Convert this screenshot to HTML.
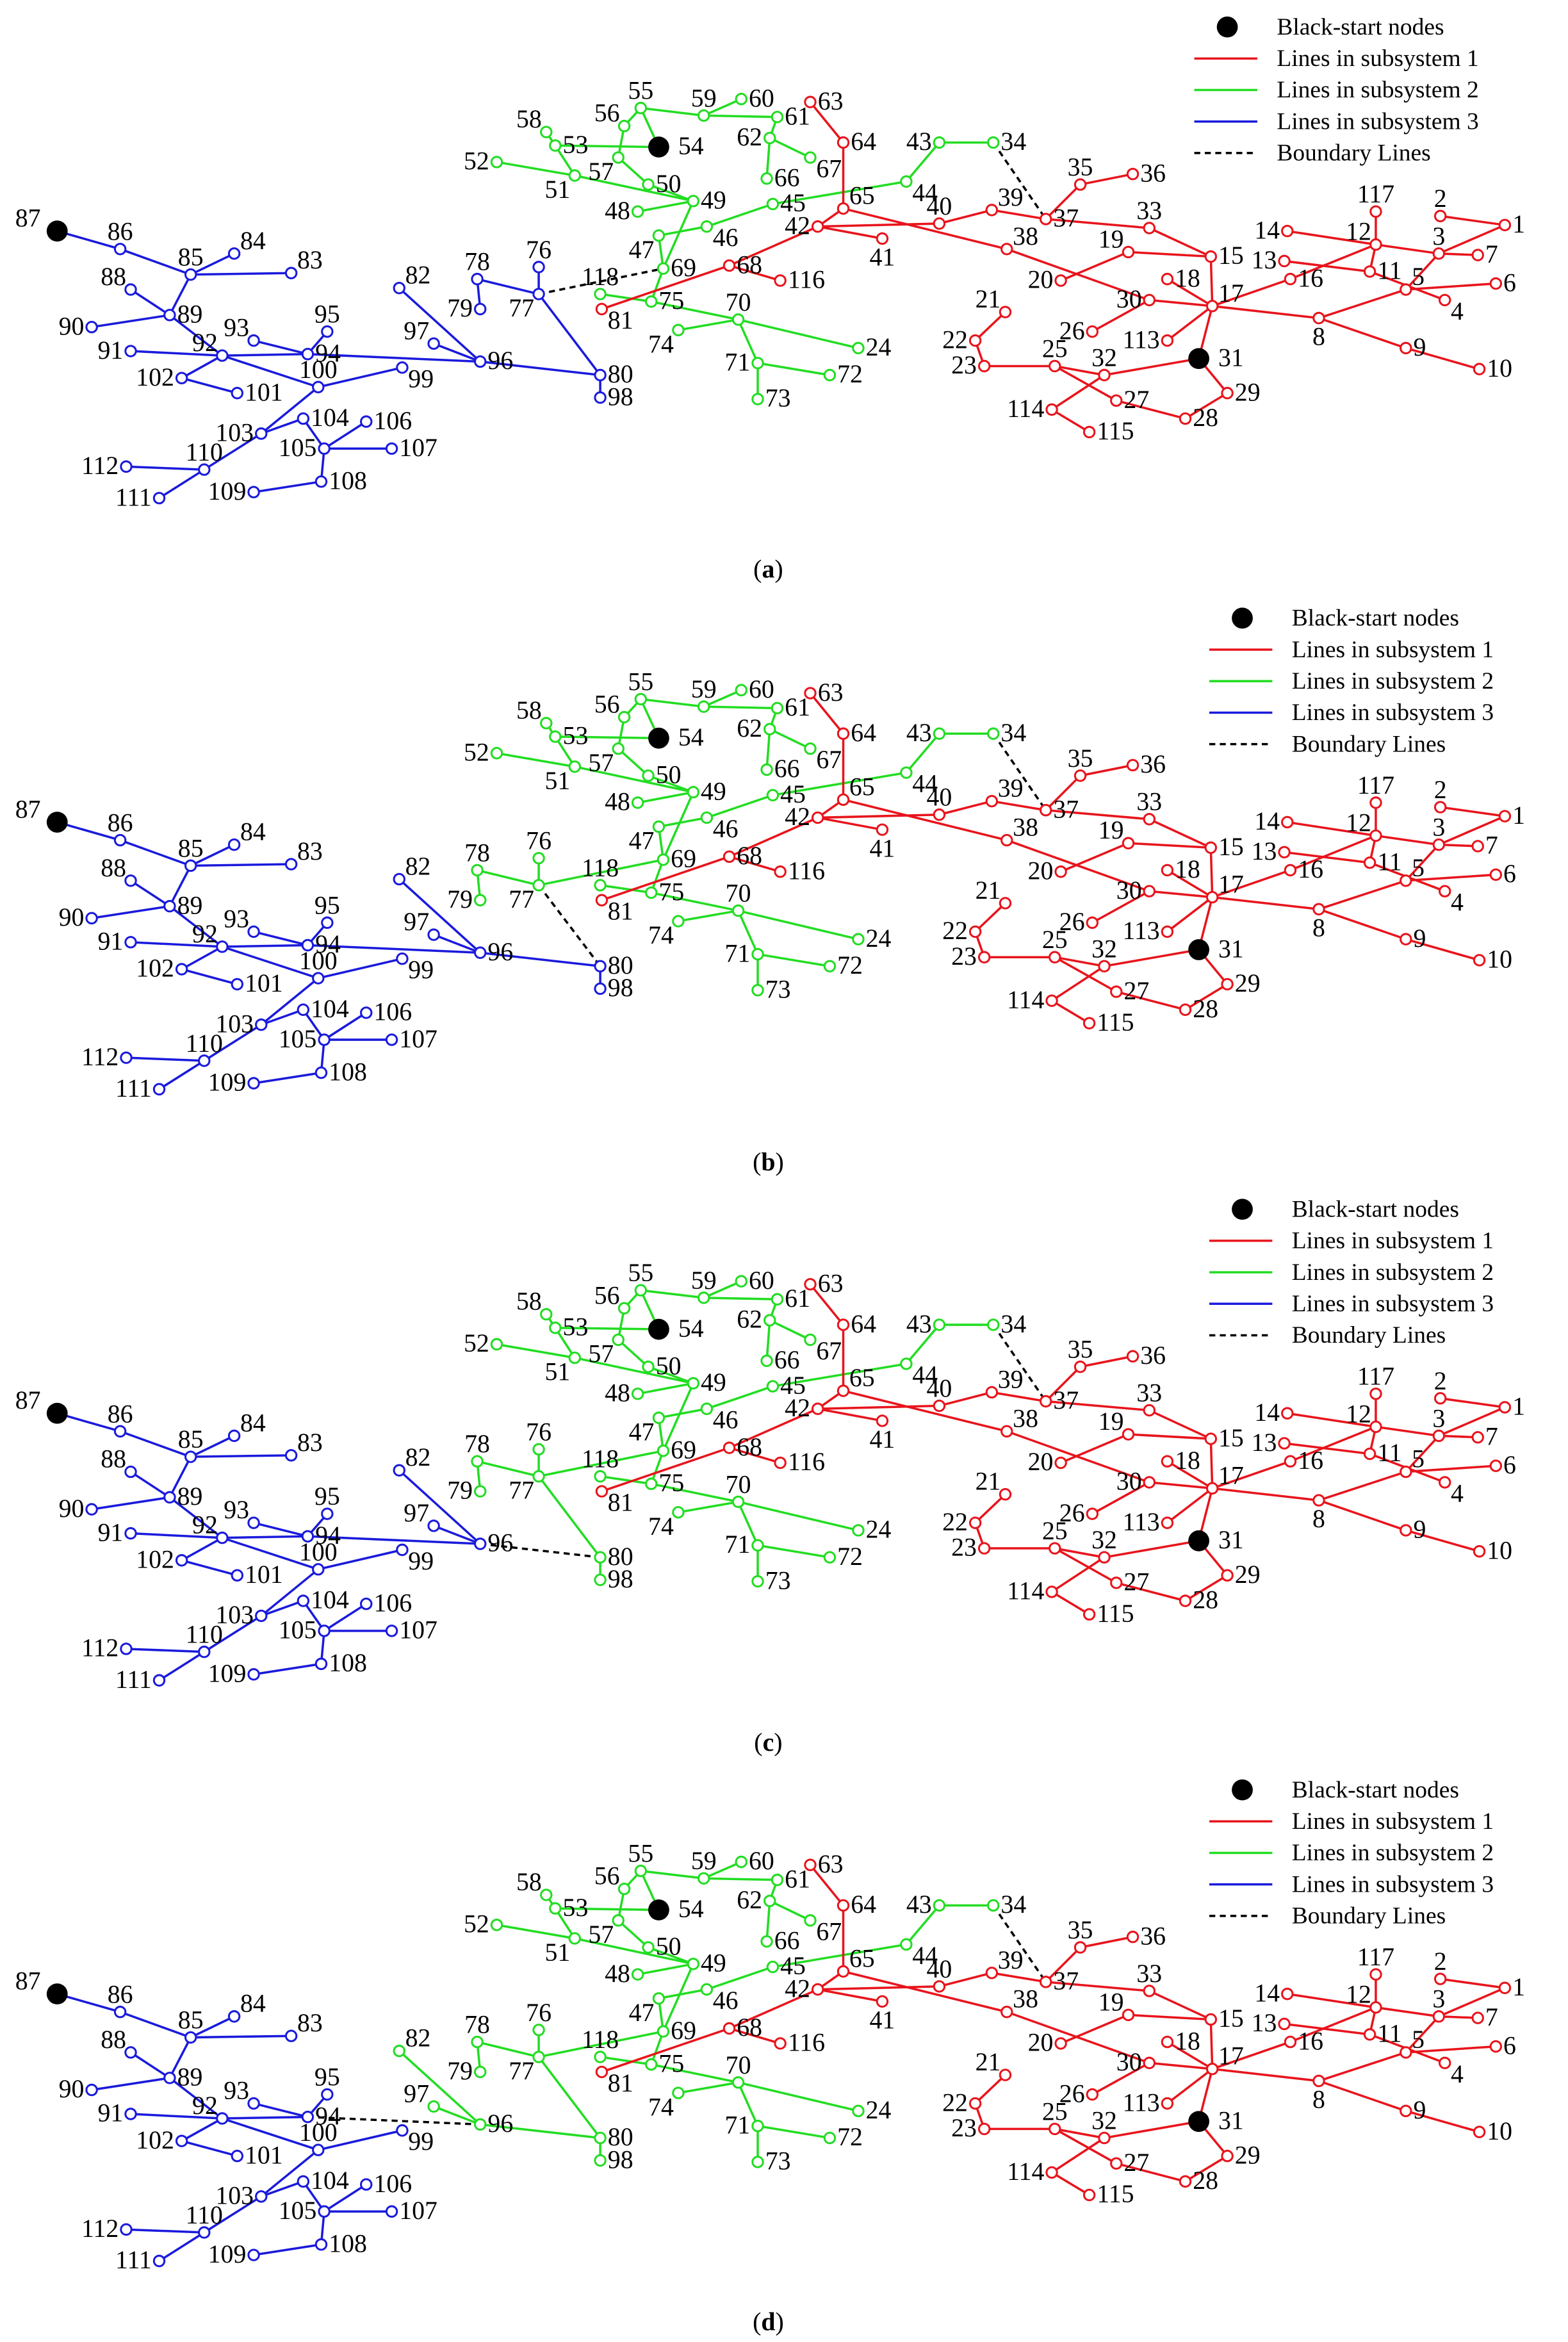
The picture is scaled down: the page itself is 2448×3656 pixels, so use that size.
<!DOCTYPE html>
<html><head><meta charset="utf-8">
<style>
html,body{margin:0;padding:0;background:#fff;}
svg{display:block;}
text{font-family:"Liberation Serif",serif;}
</style></head>
<body>
<svg id="s" width="2448" height="3656" viewBox="0 0 1045 1561" xmlns="http://www.w3.org/2000/svg"></svg>
<script>
const N={
87:[38,154],86:[80,166],85:[127,183],84:[156,169],83:[194,182],88:[87,193],89:[113,210],90:[61,218],91:[87,234],
92:[148,237],93:[169,227],95:[218,221],94:[205,236],97:[289,229],96:[320,241],82:[266,192],78:[318,186],79:[320,206],
76:[359,178],77:[359,196],80:[400,250],98:[400,265],99:[268,245],100:[212,258],102:[121,252],101:[158,262],
103:[174,289],104:[202,279],106:[244,281],105:[216,299],107:[261,299],108:[214,321],109:[169,328],110:[136,313],112:[84,311],111:[106,332],
55:[427,72],59:[469,77],60:[494,66],61:[518,78],63:[540,68],62:[513,92],67:[540,105],66:[511,119],64:[562,95],43:[626,95],34:[662,95],
44:[604,121],56:[416,84],58:[364,88],53:[370,97],54:[439,98],57:[412,105],52:[331,108],51:[383,117],50:[432,123],49:[462,134],48:[425,141],
45:[515,136],65:[562,139],42:[545,151],40:[626,149],39:[661,140],41:[588,159],38:[671,166],46:[471,151],47:[439,157],69:[442,179],
68:[486,177],116:[520,187],118:[400,196],81:[401,206],75:[434,201],70:[492,213],74:[452,220],24:[572,232],71:[505,242],72:[553,250],73:[505,266],
35:[720,123],36:[755,116],37:[697,146],33:[766,152],19:[752,168],15:[807,171],20:[707,187],18:[778,186],30:[766,200],17:[808,204],
26:[728,221],113:[778,227],31:[799,239],21:[670,208],22:[650,227],23:[656,244],25:[703,244],32:[736,250],27:[744,267],28:[790,279],
29:[818,262],114:[701,273],115:[726,288],14:[858,154],117:[917,141],12:[917,163],2:[960,144],1:[1003,150],3:[959,169],7:[985,170],
13:[856,174],16:[860,186],11:[913,181],5:[937,193],6:[997,189],4:[963,200],8:[879,212],9:[937,232],10:[986,246]};
const P0={lu:'87 88 92 93 97 56 58 21 19 12',a:'86 85 95 78 76 100 110 55 59 118 70 40 35 33 25 32 117 2 3',
l:'90 91 79 102 103 105 109 112 111 62 43 52 48 42 71 22 23 20 30 26 113 114 14 13',
lb:'77 57 51 47 74',rb:'99 67 44 46 81 4',b:'41 8',ru:'84 83 82 39 38 17 65 5'};
const POS={};for(const k in P0)P0[k].split(' ').forEach(n=>POS[n]=k);
function lab(n,x,y){const p=POS[n]||'r';const big=(n=='87'||n=='54'||n=='31')?8:0;
 let tx,ty,an='start';
 switch(p){case 'r':tx=x+5+big;ty=y+5;break;case 'ru':tx=x+4;ty=y-3;break;case 'rb':tx=x+4;ty=y+13;break;
 case 'l':tx=x-5-big;ty=y+5;an='end';break;case 'lu':tx=x-3-big;ty=y-3;an='end';break;case 'lb':tx=x-3;ty=y+15;an='end';break;
 case 'a':tx=x;ty=y-6;an='middle';break;case 'b':tx=x;ty=y+18;an='middle';break;}
 return `<text x="${tx}" y="${ty}" font-size="17" text-anchor="${an}">${n}</text>`;}
const blue="87-86 86-85 85-84 85-83 85-89 88-89 89-90 89-92 91-92 92-94 94-96 93-94 94-95 92-102 102-101 92-100 100-99 100-103 103-110 110-112 110-111 103-104 104-105 105-106 105-107 105-108 108-109 96-97 96-82 96-80 80-98 77-80 77-78 78-79 77-76";
const green="55-56 56-57 55-59 59-60 59-61 61-62 62-67 62-66 55-54 53-54 58-53 53-51 52-51 51-49 57-50 50-49 48-49 49-69 69-75 47-69 47-46 46-45 45-44 44-43 43-34 118-75 75-70 70-24 70-74 70-71 71-72 71-73";
const red="63-64 64-65 65-42 42-40 42-41 42-68 68-81 68-116 65-38 40-39 39-37 37-33 37-35 35-36 33-15 19-15 15-17 38-30 20-19 30-17 30-26 18-17 113-17 17-31 17-16 16-12 17-8 8-5 8-9 9-10 5-3 5-6 13-11 11-4 14-12 12-3 3-7 12-117 12-11 2-1 1-3 23-25 25-32 32-31 25-27 27-28 28-29 29-31 32-114 114-115 21-22 22-23";
const S=document.getElementById('s');
let h='';
const R='#e8141c',G='#22dd22',B='#1a1adc';
const panels=[
 {dy:0,cap:'a',dash:['77-69','34-37'],g:[],rm:[],lx:818},
 {dy:394,cap:'b',dash:['77-80','34-37'],g:['77-69','77-78','77-76','78-79'],rm:['77-80'],lx:828},
 {dy:788,cap:'c',dash:['96-80','34-37'],g:['77-69','77-78','77-76','78-79','77-80','80-98'],rm:['96-80'],lx:828},
 {dy:1175,cap:'d',dash:['94-96','34-37'],g:['77-69','77-78','77-76','78-79','77-80','80-98','96-80','96-97','96-82'],rm:['94-96'],lx:828}
];
function line(a,b,col,dy,dash){const p=N[a],q=N[b];if(!p||!q)return;
 h+=`<line x1="${p[0]}" y1="${p[1]+dy}" x2="${q[0]}" y2="${q[1]+dy}" stroke="${col}" stroke-width="1.5"${dash?' stroke-dasharray="4,3"':''}/>`;}
panels.forEach((P,pi)=>{
 const dy=P.dy,col={};
 const rm=new Set(P.rm),gs=new Set(P.g);
 blue.split(' ').forEach(e=>{if(rm.has(e)||gs.has(e))return;line(...e.split('-'),B,dy);e.split('-').forEach(n=>col[n]=B);});
 P.g.forEach(e=>{line(...e.split('-'),G,dy);e.split('-').forEach(n=>{if(n!='69')col[n]=G;});});
 green.split(' ').forEach(e=>{line(...e.split('-'),G,dy);e.split('-').forEach(n=>col[n]=G);});
 red.split(' ').forEach(e=>{line(...e.split('-'),R,dy);e.split('-').forEach(n=>col[n]=R);});
 ['34','43','44'].forEach(n=>col[n]=G);
 P.dash.forEach(e=>line(...e.split('-'),'#000',dy,true));
 for(const k in N){const [x,y]=N[k];const c=col[k]||R;
  if(k=='87'||k=='54'||k=='31')h+=`<circle cx="${x}" cy="${y+dy}" r="7" fill="#000"/>`;
  else h+=`<circle cx="${x}" cy="${y+dy}" r="3.5" fill="#fff" stroke="${c}" stroke-width="1.3"/>`;
  h+=lab(k,x,y+dy);}
 const lx=P.lx,ly=18+dy;
 h+=`<circle cx="${lx}" cy="${ly}" r="7" fill="#000"/><text x="${lx+33}" y="${ly+5}" font-size="16">Black-start nodes</text>`;
 [[R,'Lines in subsystem 1'],[G,'Lines in subsystem 2'],[B,'Lines in subsystem 3'],['#000','Boundary Lines']].forEach((l,i)=>{
  const y=ly+21*(i+1);
  h+=`<line x1="${lx-22}" y1="${y}" x2="${lx+20}" y2="${y}" stroke="${l[0]}" stroke-width="1.5"${i==3?' stroke-dasharray="4,3"':''}/><text x="${lx+33}" y="${y+5}" font-size="16">${l[1]}</text>`;});
 const cy=[385,780,1167,1553][pi];
 h+=`<text x="512" y="${cy}" font-size="17" text-anchor="middle">(<tspan font-weight="bold">${P.cap}</tspan>)</text>`;
});
S.innerHTML=h;
</script>
</body></html>
